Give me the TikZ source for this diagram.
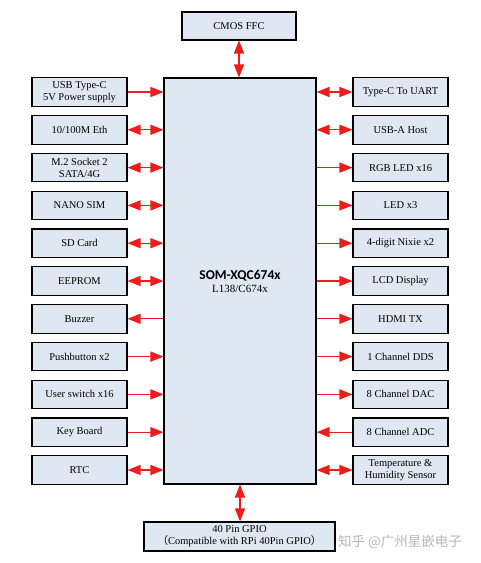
\documentclass[tikz,border=0pt]{standalone}
\usepackage{fontspec}
\setmainfont{Liberation Serif}
\newfontfamily\carl{Carlito}
\newfontfamily\cjk{Noto Sans CJK SC}
\usetikzlibrary{arrows.meta}
\definecolor{boxfill}{HTML}{DFE7F2}
\definecolor{arrred}{HTML}{EE1C1C}
\begin{document}
\begin{tikzpicture}[x=1pt,y=-1pt,
  blk/.style={draw=black,line width=1.1pt,fill=boxfill,inner sep=0pt,align=center,
    font=\fontsize{10.5}{12}\selectfont},
  sbox/.style={blk,minimum width=95pt,minimum height=28.5pt},
  conn/.style={draw=arrred,line width=1.3pt},
  tip/.tip={Triangle[length=13pt,width=10pt]},
  bi/.style={conn,tip-tip},
  fw/.style={conn,-tip},
  bw/.style={conn,tip-}
]
\useasboundingbox[fill=white] (0,0) rectangle (481,563);
\node[blk,minimum width=152pt,minimum height=406pt] (main) at (240,281)
  {{\carl\bfseries\fontsize{13.5}{15}\selectfont SOM-XQC674x}\\[1pt]{\fontsize{11}{12}\selectfont L138/C674x}};
\node[blk,minimum width=114pt,minimum height=28pt] (cmos) at (239,26) {CMOS FFC};
\node[blk,minimum width=191pt,minimum height=29pt] (gpio) at (239.5,536.5)
  {40 Pin GPIO\\{\cjk （}Compatible with RPi 40Pin GPIO{\cjk ）}};
% left column
\node[sbox] (l1) at (79.5,92) {USB Type-C\\5V Power supply};
\node[sbox] (l2) at (79.5,129.8) {10/100M Eth};
\node[sbox] (l3) at (79.5,167.6) {M.2 Socket 2\\SATA/4G};
\node[sbox] (l4) at (79.5,205.4) {NANO SIM};
\node[sbox] (l5) at (79.5,243.2) {SD Card};
\node[sbox] (l6) at (79.5,281) {EEPROM};
\node[sbox] (l7) at (79.5,318.8) {Buzzer};
\node[sbox] (l8) at (79.5,356.6) {Pushbutton x2};
\node[sbox] (l9) at (79.5,394.4) {User switch x16};
\node[sbox] (l10) at (79.5,432.2) {Key Board};
\node[sbox] (l11) at (79.5,470) {RTC};
% right column
\node[sbox] (r1) at (400.5,92) {Type-C To UART};
\node[sbox] (r2) at (400.5,129.8) {USB-A Host};
\node[sbox] (r3) at (400.5,167.6) {RGB LED x16};
\node[sbox] (r4) at (400.5,205.4) {LED x3};
\node[sbox] (r5) at (400.5,243.2) {4-digit Nixie x2};
\node[sbox] (r6) at (400.5,281) {LCD Display};
\node[sbox] (r7) at (400.5,318.8) {HDMI TX};
\node[sbox] (r8) at (400.5,356.6) {1 Channel DDS};
\node[sbox] (r9) at (400.5,394.4) {8 Channel DAC};
\node[sbox] (r10) at (400.5,432.2) {8 Channel ADC};
\node[sbox] (r11) at (400.5,470) {Temperature \&\\Humidity Sensor};
% connectors
\draw[bi] (cmos.south) -- (cmos.south |- main.north);
\draw[bi] (gpio.north -| main.south) -- (main.south);
\foreach \n/\s in {l1/fw,l2/bi,l3/bi,l4/bi,l5/bi,l6/bi,l7/bw,l8/fw,l9/fw,l10/fw,l11/bi}
  \draw[\s] (\n.east) -- (\n.east -| main.west);
\foreach \n/\s in {r1/bi,r2/bi,r3/bw,r4/bw,r5/bw,r6/bw,r7/bw,r8/bw,r9/bw,r10/fw,r11/bi}
  \draw[\s] (\n.west) -- (\n.west -| main.east);
\node[text=black!28,font=\cjk\fontsize{13.5}{14}\selectfont,anchor=west,inner sep=0pt] (wm) at (338,542) {知乎 @广州星嵌电子};
\end{tikzpicture}
\end{document}
